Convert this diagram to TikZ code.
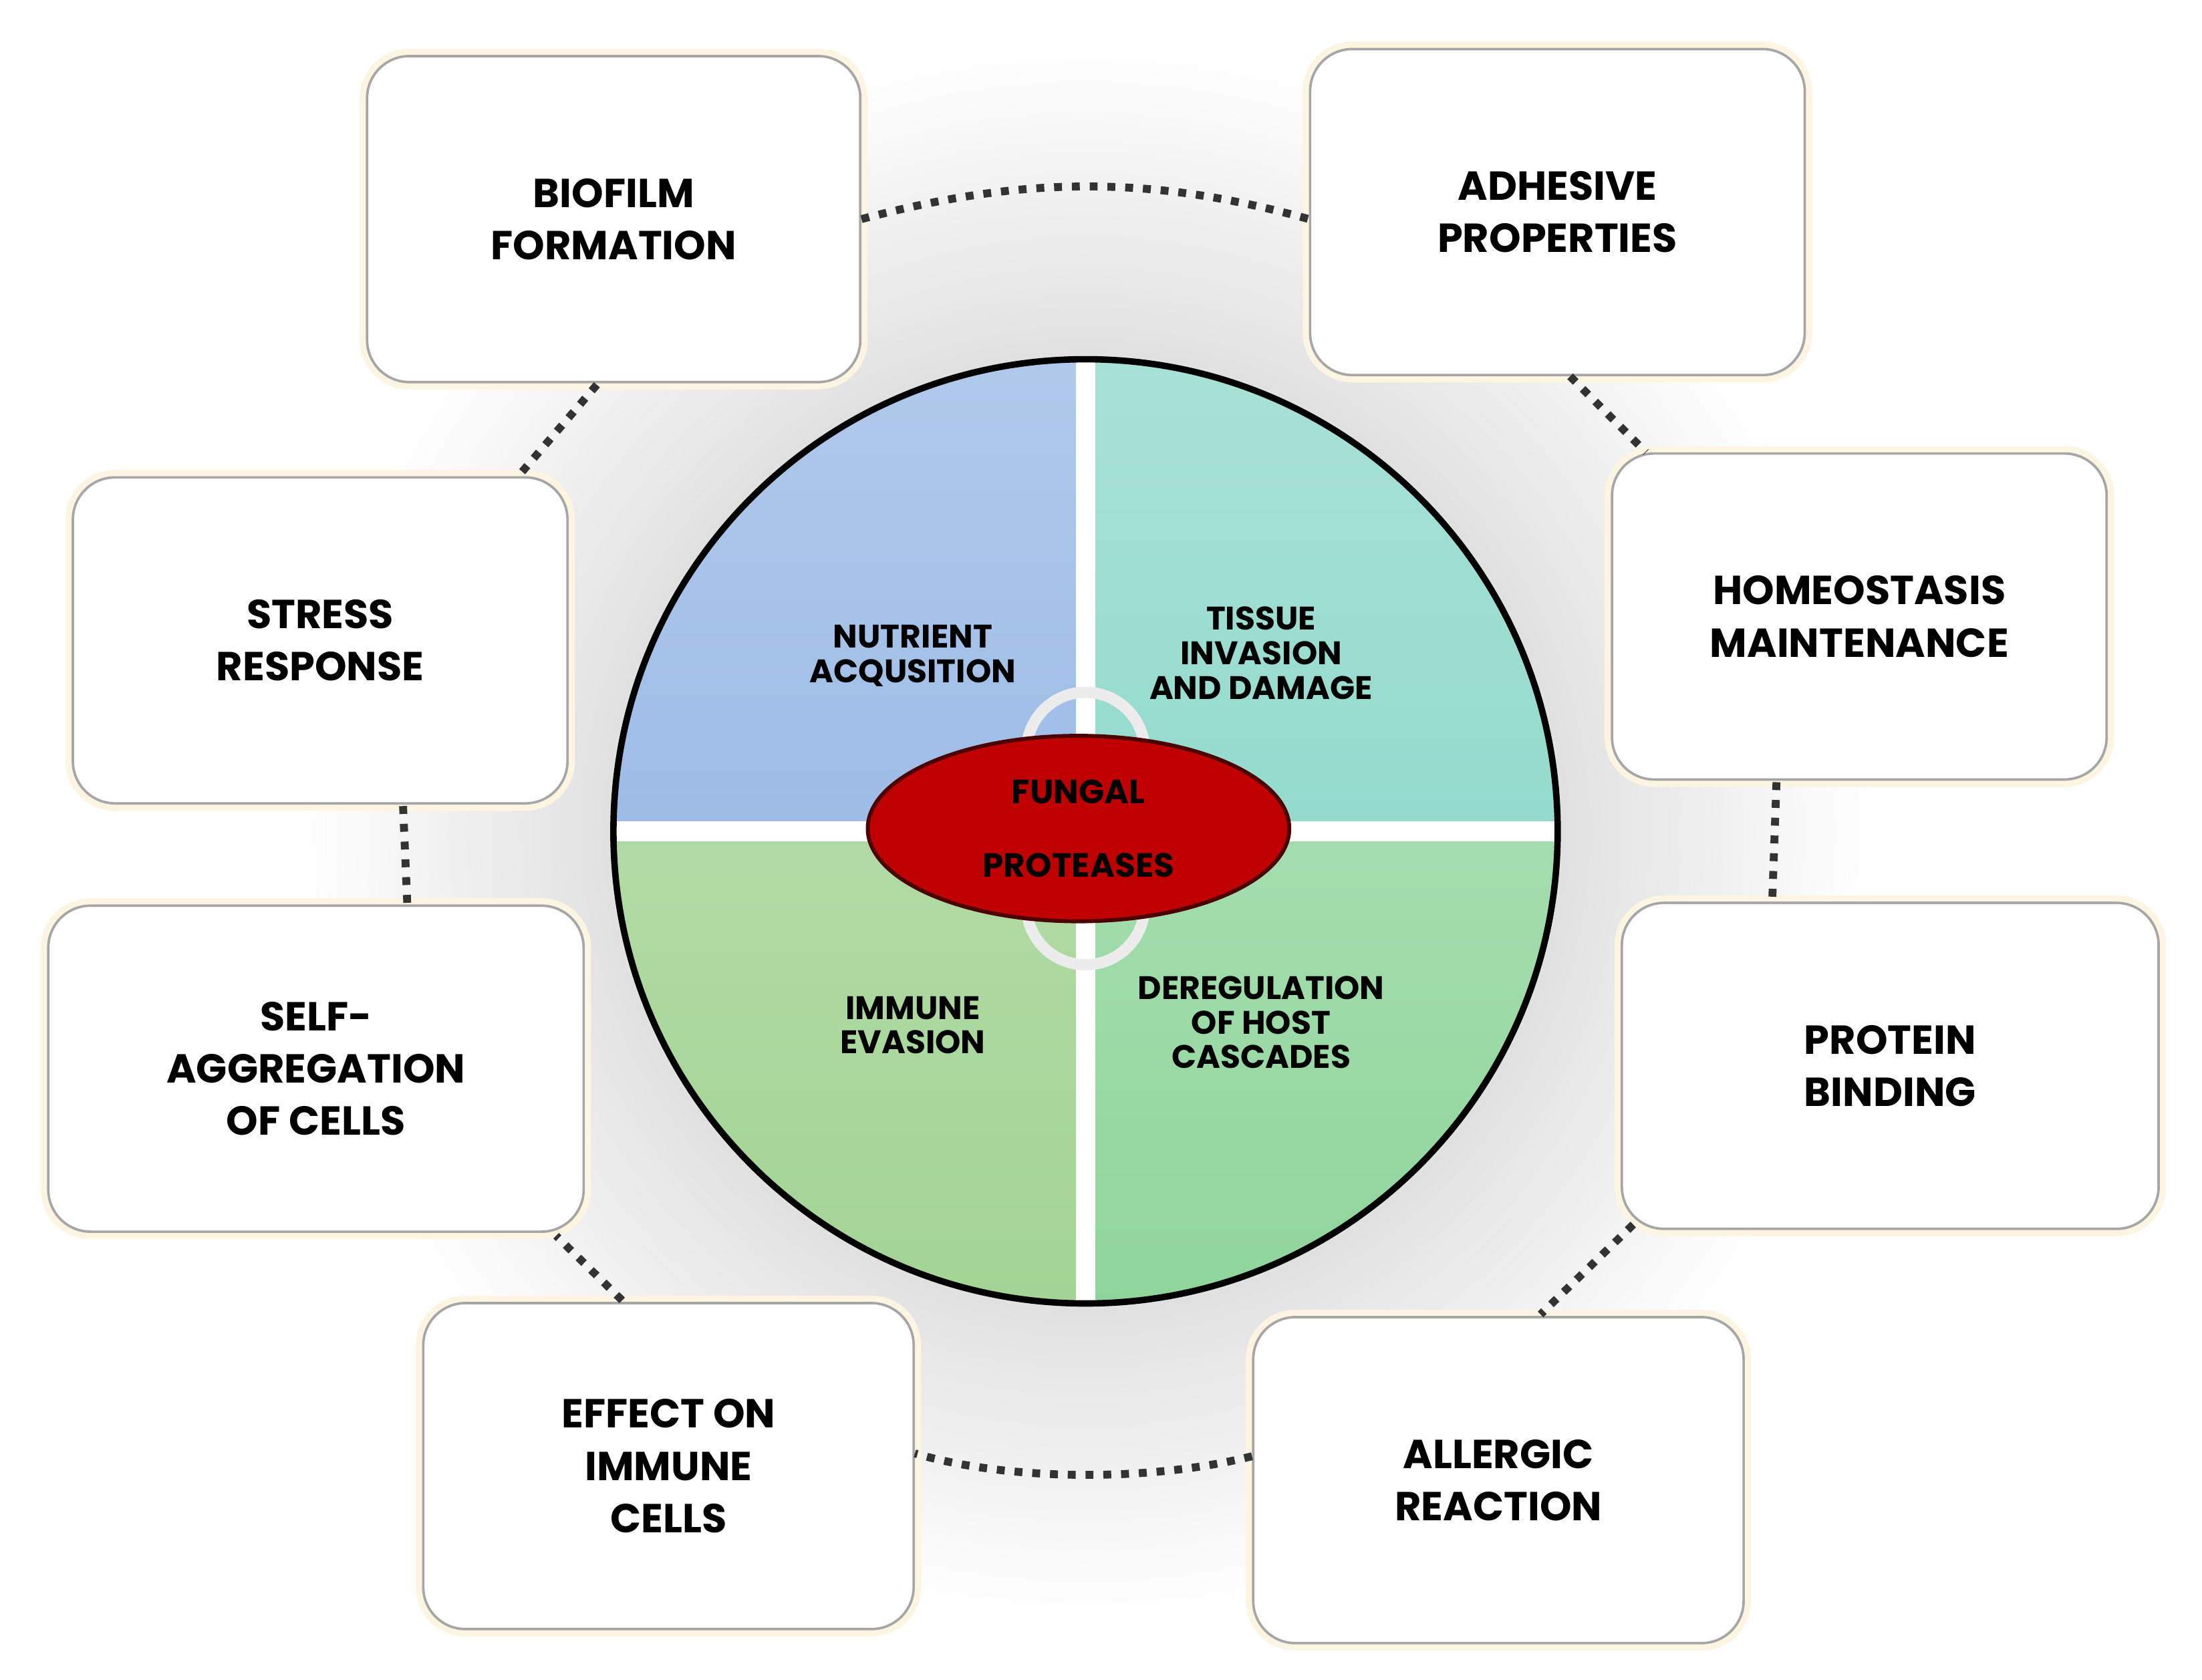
\documentclass[tikz,border=0pt]{standalone}
\usepackage{fontspec}
\setmainfont{Poppins}[BoldFont={* Bold}]
\usetikzlibrary{shapes.geometric}
\definecolor{qblue}{HTML}{9DBCE6}
\definecolor{qteal}{HTML}{93DACD}
\definecolor{qgreenA}{HTML}{A3D494}
\definecolor{qgreenB}{HTML}{8ED59A}
\definecolor{fred}{HTML}{C00000}
\tikzset{
 box/.style={draw=gray!70,line width=0.5pt,fill=white,rounded corners=0.3cm,minimum width=3.5cm,minimum height=2.32cm,align=center,font=\bfseries\fontsize{8.2}{10.6}\selectfont,
   preaction={draw=yellow!25!orange!10,line width=3pt,rounded corners=0.3cm}},
 qtext/.style={align=center,font=\bfseries\fontsize{6.6}{7}\selectfont},
 link/.style={dotted,line width=1.6pt,black!80}
}
\begin{document}
\begin{tikzpicture}[x=0.01cm,y=-0.01cm]
\useasboundingbox (0,0) rectangle (1568,1196);
\fill[white] (0,0) rectangle (1568,1196);
% glow
\shade[inner color=gray!60,outer color=white] (773,592) circle (5.6cm);
% boxes
\node[box,minimum width=3.51cm] (bio) at (437,156) {BIOFILM\\FORMATION};
\node[box,minimum width=3.52cm] (adh) at (1109,151) {ADHESIVE\\PROPERTIES};
\node[box,minimum width=3.52cm] (hom) at (1324,439) {HOMEOSTASIS\\MAINTENANCE};
\node[box,minimum width=3.82cm] (pro) at (1346,759) {PROTEIN\\BINDING};
\node[box,minimum width=3.49cm] (all) at (1067,1054) {ALLERGIC\\REACTION};
\node[box,minimum width=3.49cm] (eff) at (476,1044) {EFFECT ON\\IMMUNE\\CELLS};
\node[box,minimum width=3.81cm] (self) at (225,761) {SELF-\\AGGREGATION\\OF CELLS};
\node[box,minimum width=3.52cm] (str) at (228,456) {STRESS\\RESPONSE};
% links
\coordinate (bl) at (eff.east|-0,1035);
\coordinate (br) at (all.west|-0,1037);
\draw[link] (bio.east) .. controls (730,125) and (820,125) .. (adh.west|-bio.east);
\draw[link] (425,274) -- (370,338);
\draw[link] (1118,268) -- (1172,322);
\draw[link] (1265,557) -- (1262,641);
\draw[link] (1163,872) -- (1097,936);
\draw[link] (br) .. controls (820,1055) and (720,1055) .. (bl);
\draw[link] (443,926) -- (396,880);
\draw[link] (287,574) -- (290,643);
% circle quadrants
\begin{scope}
\clip (773,592) circle (3.36cm);
\shade[top color=qblue!80,bottom color=qblue] (430,250) rectangle (773,592);
\shade[top color=qteal!80,bottom color=qteal] (773,250) rectangle (1120,592);
\shade[top color=qgreenA!85,bottom color=qgreenA] (430,592) rectangle (773,940);
\shade[top color=qgreenB!80,bottom color=qgreenB] (773,592) rectangle (1120,940);
\draw[white,line width=0.14cm] (773,250) -- (773,940);
\draw[white,line width=0.14cm] (430,592) -- (1120,592);
\end{scope}
\node[circle,draw=black,line width=1.3pt,minimum size=6.72cm] (circ) at (773,592) {};
\node[qtext] (q1) at (650,467) {NUTRIENT\\ACQUSITION};
\node[qtext] (q2) at (898,465) {TISSUE\\INVASION\\AND DAMAGE};
\node[qtext] (q3) at (650,730) {IMMUNE\\EVASION};
\node[qtext] (q4) at (898,728) {DEREGULATION\\OF HOST\\CASCADES};
% rings
\draw[white!85!gray,line width=0.08cm] (773,535) circle (0.42cm);
\draw[white!85!gray,line width=0.08cm] (773,645) circle (0.42cm);
% ellipse
\node[ellipse,draw=black!60!fred,line width=0.8pt,fill=fred,minimum width=3cm,minimum height=1.32cm,align=center,font=\bfseries\fontsize{6.8}{15}\selectfont,text=black] (fp) at (768,590) {FUNGAL\\PROTEASES};
\end{tikzpicture}
\end{document}
